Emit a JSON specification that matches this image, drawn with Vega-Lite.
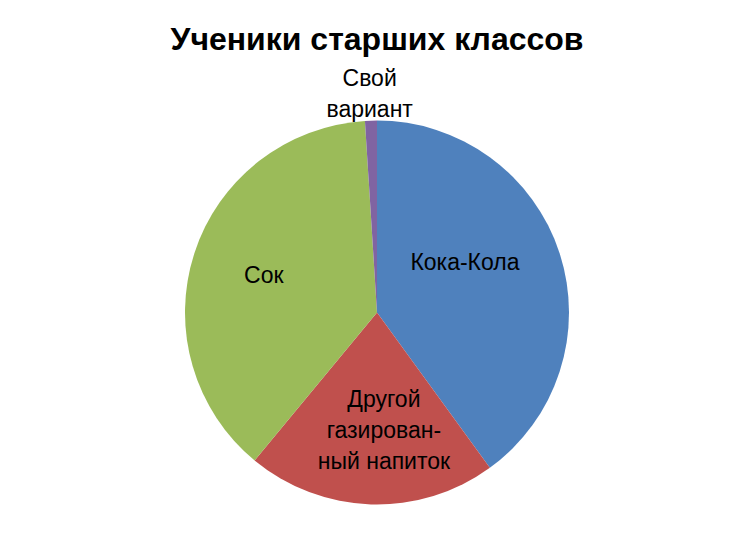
{
  "$schema": "https://vega.github.io/schema/vega-lite/v6.json",
  "width": 754,
  "height": 557,
  "autosize": {"type": "fit", "contains": "padding"},
  "padding": {"top": 24, "left": 0, "right": 0, "bottom": 0},
  "background": "white",
  "config": {"view": {"stroke": null}},
  "title": {
    "text": "Ученики старших классов",
    "font": "Liberation Sans",
    "fontSize": 32,
    "fontWeight": "bold",
    "color": "black",
    "anchor": "middle",
    "offset": 11
  },
  "data": {
    "values": [
      {"category": "Кока-Кола", "label": "Кока-Кола", "value": 40, "rank": 1},
      {"category": "Другой газированный напиток", "label": "Другой\nгазирован-\nный напиток", "value": 21, "rank": 2},
      {"category": "Сок", "label": "Сок", "value": 38, "rank": 3},
      {"category": "Свой вариант", "label": "Свой\nвариант", "value": 1, "rank": 4}
    ]
  },
  "encoding": {
    "theta": {"field": "value", "type": "quantitative", "stack": true},
    "order": {"field": "rank", "type": "quantitative", "sort": "ascending"}
  },
  "layer": [
    {
      "mark": {"type": "arc", "outerRadius": 192},
      "encoding": {
        "color": {
          "field": "category",
          "type": "nominal",
          "sort": null,
          "scale": {
            "domain": ["Кока-Кола", "Другой газированный напиток", "Сок", "Свой вариант"],
            "range": ["#4F81BD", "#C0504D", "#9BBB59", "#8064A2"]
          },
          "legend": null
        }
      }
    },
    {
      "mark": {"type": "text", "radius": 101, "thetaOffset": -0.2, "font": "Liberation Sans", "fontSize": 23, "lineHeight": 31, "color": "black", "lineBreak": "\n"},
      "encoding": {
        "text": {"condition": {"test": "datum.category === 'Кока-Кола'", "field": "label"}, "value": ""}
      }
    },
    {
      "mark": {"type": "text", "radius": 88, "thetaOffset": -0.11, "font": "Liberation Sans", "fontSize": 23, "lineHeight": 31, "color": "black", "lineBreak": "\n"},
      "encoding": {
        "text": {"condition": {"test": "datum.category === 'Другой газированный напиток'", "field": "label"}, "value": ""}
      }
    },
    {
      "mark": {"type": "text", "radius": 119, "font": "Liberation Sans", "fontSize": 23, "lineHeight": 31, "color": "black", "lineBreak": "\n"},
      "encoding": {
        "text": {"condition": {"test": "datum.category === 'Сок'", "field": "label"}, "value": ""}
      }
    },
    {
      "mark": {"type": "text", "radius": 234, "font": "Liberation Sans", "fontSize": 23, "lineHeight": 31, "color": "black", "lineBreak": "\n"},
      "encoding": {
        "text": {"condition": {"test": "datum.category === 'Свой вариант'", "field": "label"}, "value": ""}
      }
    }
  ]
}
